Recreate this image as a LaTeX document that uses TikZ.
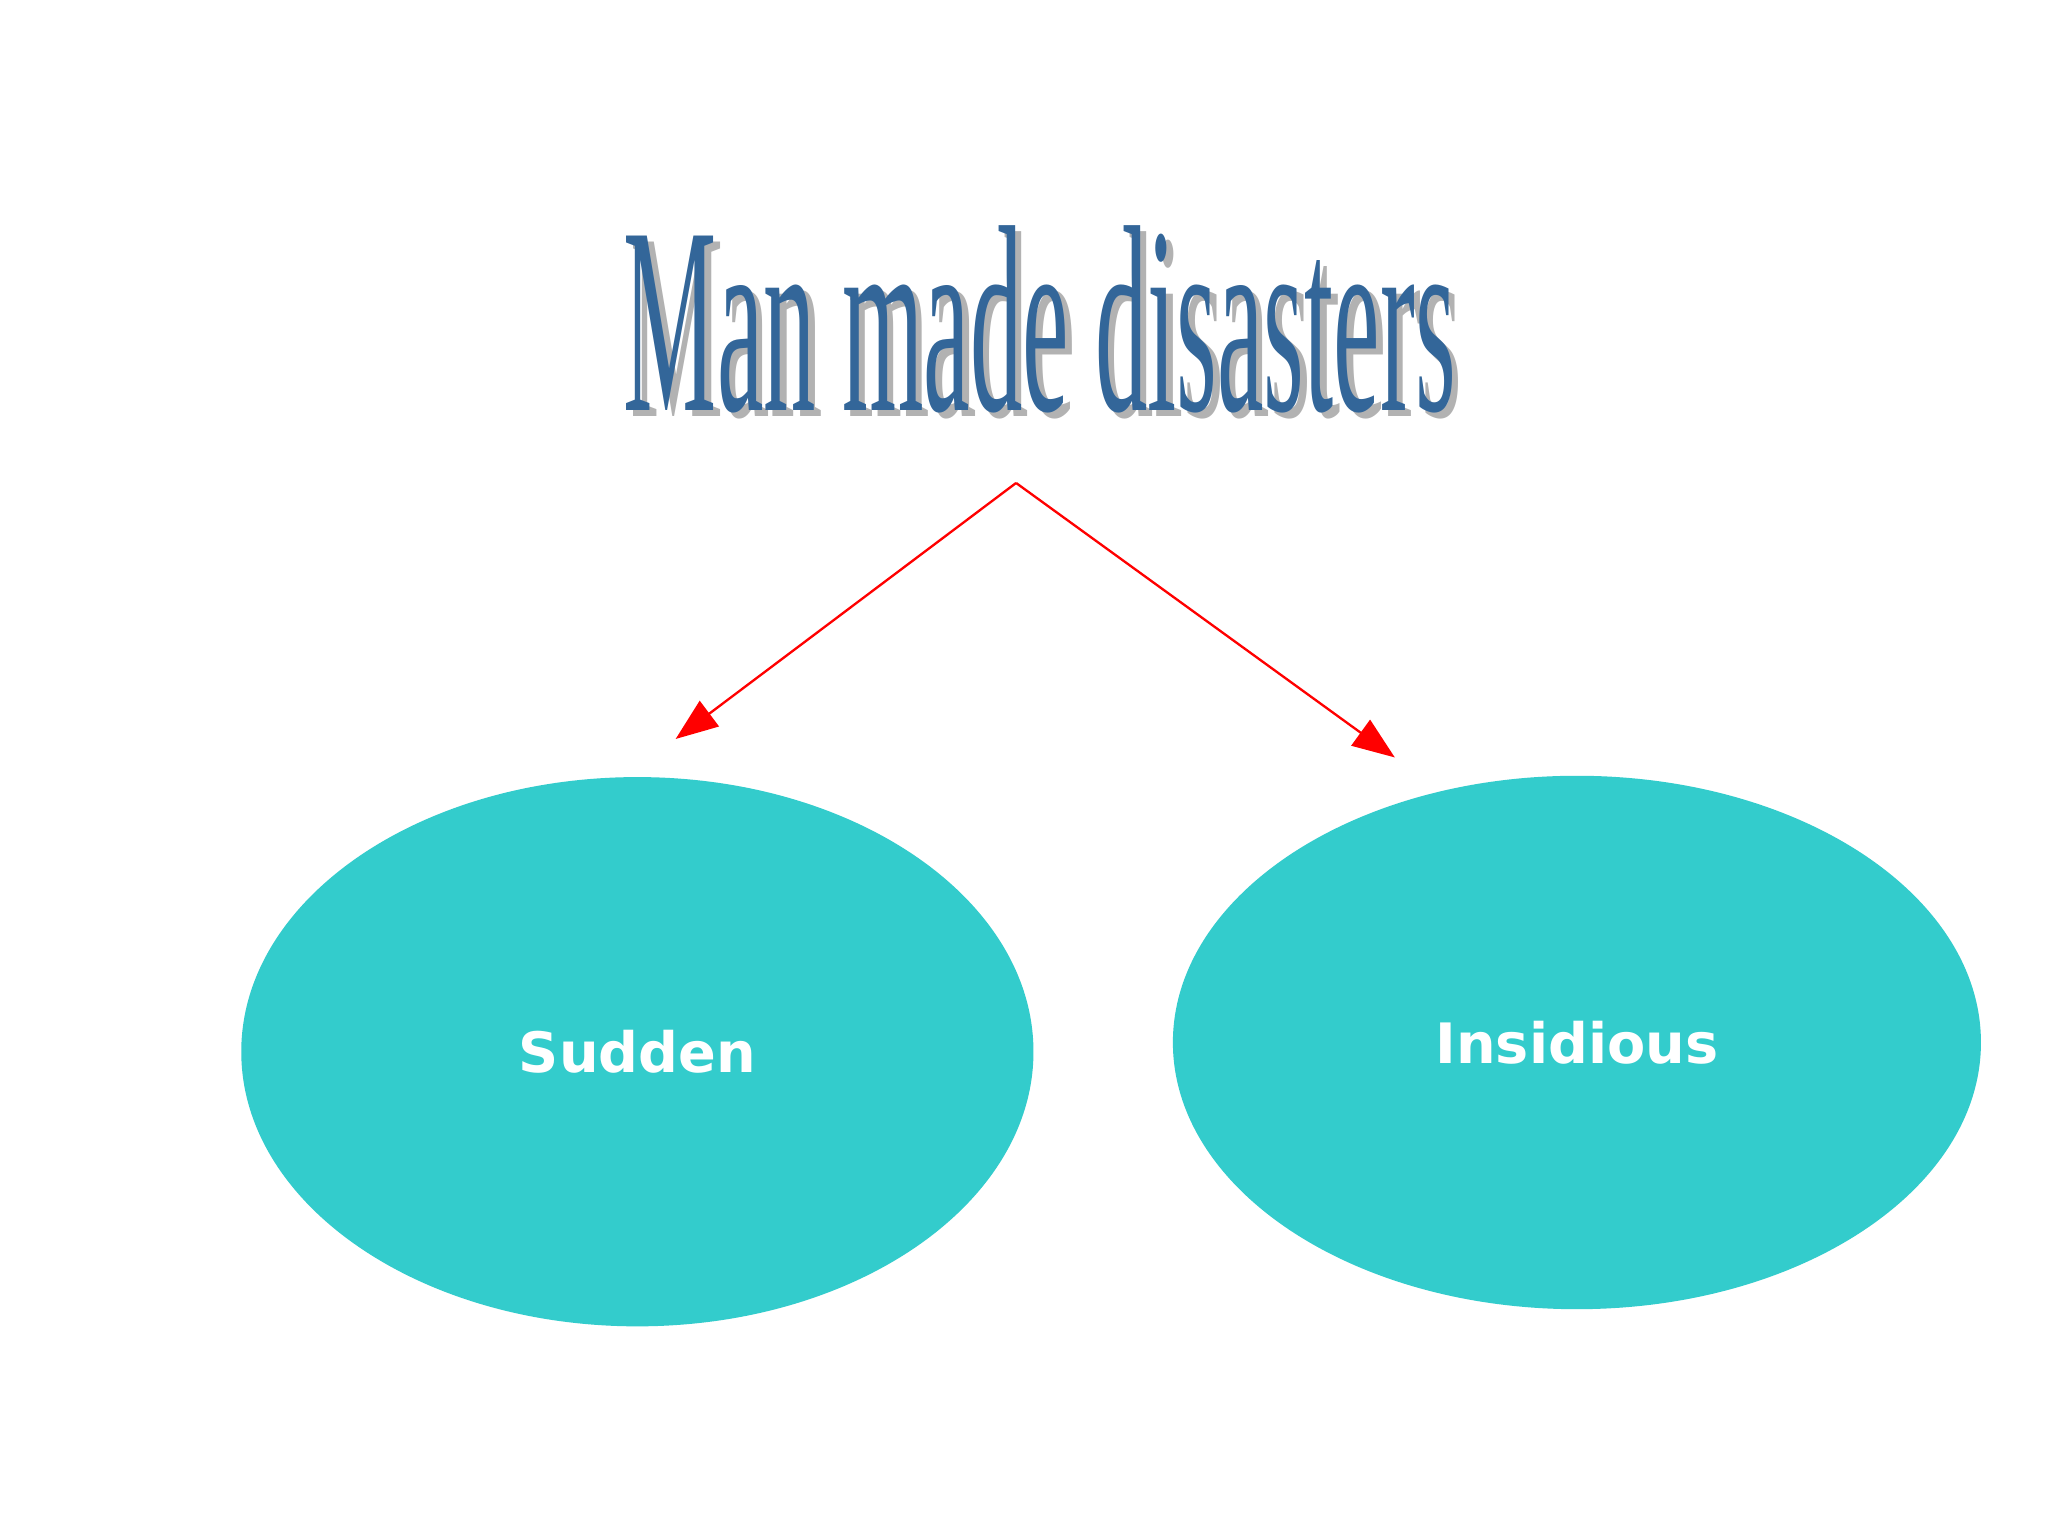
\documentclass[tikz,border=0pt]{standalone}
\usepackage{fontspec}
\setmainfont{Liberation Serif}
\newfontfamily\labfont{DejaVu Sans}
\usetikzlibrary{arrows.meta,shapes.geometric}
\definecolor{titleblue}{HTML}{336699}
\definecolor{teal}{HTML}{33CCCC}
\tikzset{
  blob/.style={ellipse, fill=teal, draw=none, text=white, font=\labfont\bfseries\fontsize{12}{14}\selectfont},
  link/.style={draw=red, line width=0.5pt, -{Triangle[length=3.2mm,width=2.4mm]}}
}
\begin{document}
\begin{tikzpicture}[x=0.01cm,y=-0.01cm]
\useasboundingbox[fill=white] (0,0) rectangle (1552,1164);
\node[anchor=base, text=gray!60, inner sep=0] at (793,316) {\resizebox{6.3cm}{1.4cm}{Man made disasters}};
\node[anchor=base, text=titleblue, inner sep=0] (title) at (788,311) {\resizebox{6.3cm}{1.4cm}{Man made disasters}};
\coordinate (top) at (770,366);
\node[blob, minimum width=6cm, minimum height=4.16cm] (s) at (483,797) {Sudden};
\node[blob, minimum width=6.12cm, minimum height=4.04cm] (i) at (1195,790) {Insidious};
\coordinate (sa) at (512,560);
\coordinate (ia) at (1057,574);
\draw[link] (top) -- (sa);
\draw[link] (top) -- (ia);
\end{tikzpicture}
\end{document}
